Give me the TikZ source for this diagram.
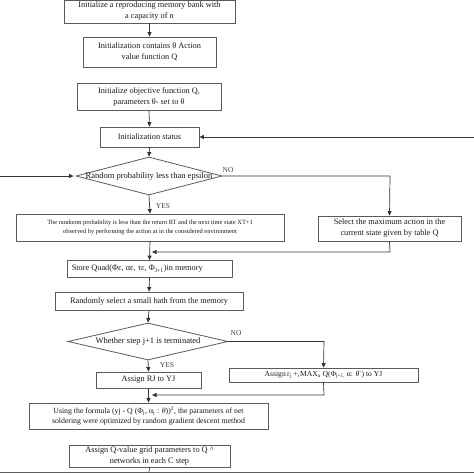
\documentclass[tikz,border=0pt]{standalone}
\usepackage{fontspec}
\setmainfont{Liberation Serif}
\usetikzlibrary{arrows.meta,shapes.geometric}
\definecolor{boxgray}{HTML}{5A5A5A}
\definecolor{linegray}{HTML}{333333}
\tikzset{
  box/.style={draw=boxgray,line width=0.8pt,rectangle,inner sep=1pt,align=center,font=\fontsize{8.3}{11}\selectfont,text=black!90},
  dia/.style={draw=boxgray,line width=0.8pt,diamond,inner sep=0pt},
  diatext/.style={inner sep=0pt,font=\fontsize{8.5}{10}\selectfont,text=black!90},
  conn/.style={draw=linegray,line width=0.7pt,-{Triangle[length=4.5pt,width=4pt]}},
  plain/.style={draw=linegray,line width=0.7pt},
  lab/.style={inner sep=0pt,font=\fontsize{7.5}{8}\selectfont,text=black!75}
}
\begin{document}
\begin{tikzpicture}[x=1pt,y=-1pt]
\useasboundingbox (0,0) rectangle (474,474);
\node[box,minimum width=171pt,minimum height=23pt] (b1) at (149.5,11.5) {Initialize a reproducing memory bank with\\a capacity of n};
\node[box,minimum width=133pt,minimum height=30pt] (b2) at (149.5,52) {Initialization contains θ Action\\value function Q};
\node[box,minimum width=144pt,minimum height=27pt] (b3) at (149,96.5) {Initialize objective function Q,\\parameters θ- set to θ};
\node[box,minimum width=99pt,minimum height=20pt] (b4) at (149.5,137) {Initialization status};
\node[dia,minimum width=146pt,minimum height=38pt] (d1) at (149,176) {};
\node[diatext] (d1t) at (d1.center) {Random probability less than epsilon};
\node[box,minimum width=268pt,minimum height=27pt,font=\fontsize{6.4}{9.5}\selectfont] (b5) at (150,227.5) {The randoom probability is less than the return RT and the next time state XT+1\\observed by performing the action at in the considered environment};
\node[box,minimum width=143pt,minimum height=25pt] (b6) at (389.5,228.5) {Select the maximum action in the\\current state given by table Q};
\node[box,minimum width=165pt,minimum height=17pt] (b7) at (149.5,269) {};
\node[inner sep=0pt,anchor=west,font=\fontsize{8.3}{9}\selectfont,text=black!90] (b7t) at ([xshift=5pt]b7.west) {Store Quad(Φε, αε, τε, Φ\textsubscript{J+1})in memory};
\node[box,minimum width=188pt,minimum height=18pt] (b8) at (149,301) {Randomly select a small bath from the memory};
\node[dia,minimum width=160pt,minimum height=37pt] (d2) at (148,341.5) {};
\node[diatext] (d2t) at (d2.center) {Whether step j+1 is terminated};
\node[box,minimum width=105pt,minimum height=16pt] (b9) at (148.5,380) {Assign RJ to YJ};
\node[box,minimum width=189pt,minimum height=14pt,font=\fontsize{7.6}{9}\selectfont] (b10) at (323.5,375) {Assign\,r\textsubscript{j} +\textsubscript{r}MAX\textsubscript{a} Q(Φ\textsubscript{j+1,} α: \textit{θ}\textsuperscript{-}) to YJ};
\node[box,minimum width=239pt,minimum height=26pt,font=\fontsize{7.8}{10.5}\selectfont] (b11) at (148.5,416) {Using the formula (yj - Q (Φ\textsubscript{j}, α\textsubscript{j} : \textit{θ}))\textsuperscript{2}, the parameters of net\\soldering were optimized by random gradient descent method};
\node[box,minimum width=161pt,minimum height=22pt,font=\fontsize{8.3}{10.5}\selectfont] (b12) at (149.5,456) {Assign Q-value grid parameters to Q \textasciicircum\\networks in each C step};
% coordinates
\coordinate (rin) at (474,137);
\coordinate (lin) at (0,176);
\coordinate (nob) at (390,176);
\coordinate (j1a) at (390,252);
\coordinate (j1b) at (152,252);
\coordinate (no2) at (324,341.5);
\coordinate (j2a) at (324,395);
\coordinate (j2b) at (152,395);
\coordinate (bot) at (149,472);
\coordinate (botl) at (0,472);
\coordinate (botr) at (474,472);
% connectors
\draw[conn] (b1.south) -- (b2.north);
\draw[conn] (b3.south) -- (b4.north);
\draw[conn] (rin) -- (b4.east);
\draw[conn] (b4.south) -- (d1.north);
\draw[conn] (lin) -- ([xshift=-2pt]d1.west);
\draw[conn] (d1.east) -- (nob) -- (b6.north);
\draw[conn] (d1.south) -- (b5.north);
\draw[conn] (b5.south) -- (b7.north);
\draw[conn] (b6.south) -- (j1a) -- (j1b);
\draw[conn] (b7.south) -- (b8.north);
\draw[conn] (b8.south) -- (d2.north);
\draw[conn] (d2.east) -- (no2) -- (b10.north);
\draw[conn] (d2.south) -- (b9.north);
\draw[conn] (b9.south) -- (b11.north);
\draw[conn] (b10.south) -- (j2a) -- (j2b);
\draw[plain] (b12.south) -- (bot);
\draw[draw=boxgray,line width=1pt] (botl) -- (botr);
% labels
\node[lab] (no1l) at (228,170) {NO};
\node[lab] (yes1l) at (163,206) {YES};
\node[lab] (no2l) at (236,333) {NO};
\node[lab] (yes2l) at (167,365) {YES};
\end{tikzpicture}
\end{document}
